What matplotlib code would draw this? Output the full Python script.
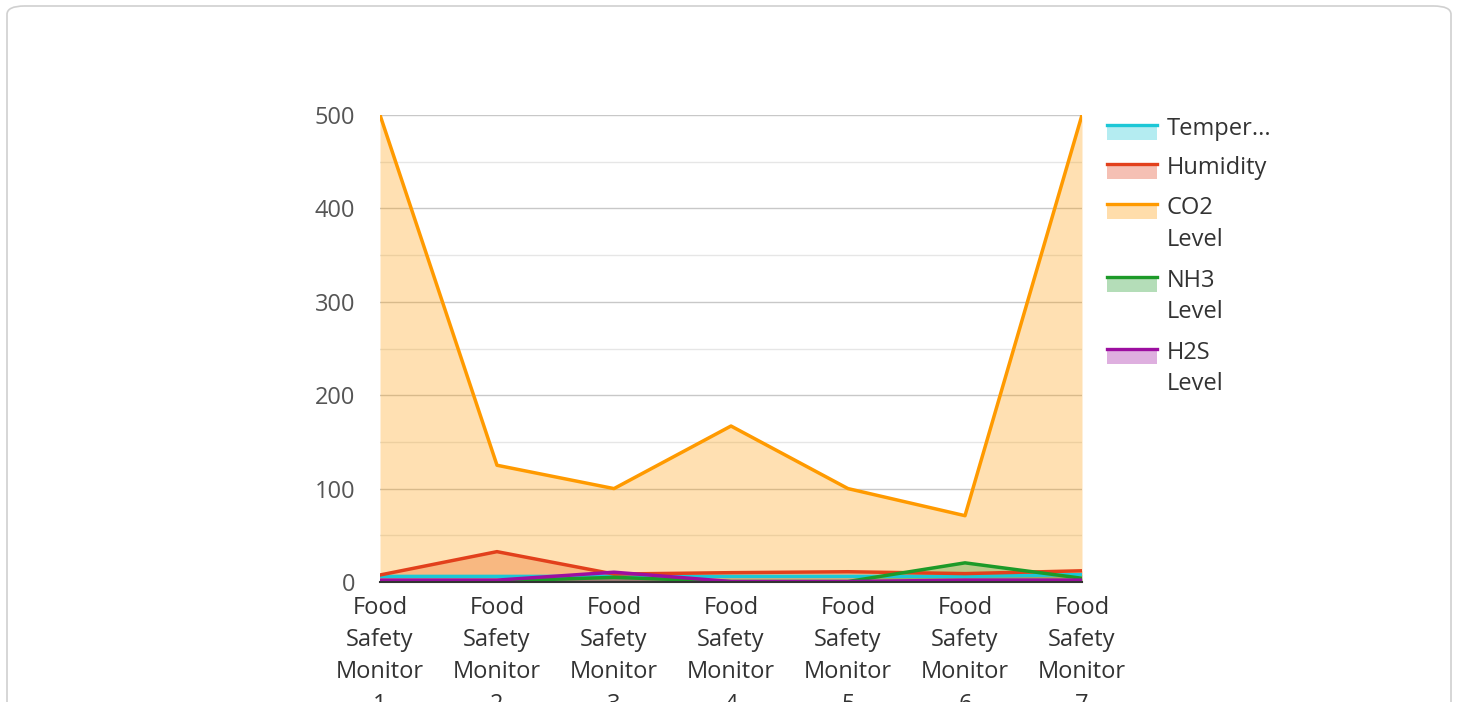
import matplotlib.pyplot as plt
from matplotlib.patches import FancyBboxPatch, Rectangle
from matplotlib.lines import Line2D
from matplotlib.ticker import MultipleLocator

plt.rcParams['font.family'] = ['Open Sans', 'DejaVu Sans']

# data
monitors = ['Food Safety Monitor %d' % i for i in range(1, 8)]
temperature = [6, 6, 6, 6, 6, 6, 8]
humidity = [7.5, 32.5, 8.5, 10, 11, 9, 12]
co2_level = [500, 125, 100, 167, 100, 71, 500]
nh3_level = [0.5, 1, 5, 0.5, 0.5, 20.5, 4]
h2s_level = [2, 2, 10.5, 0.5, 0.5, 2, 2]

series_names = ['Temper...', 'Humidity', 'CO2\nLevel', 'NH3\nLevel', 'H2S\nLevel']
series_values = [temperature, humidity, co2_level, nh3_level, h2s_level]
colors = ['#1cc7d6', '#e2401c', '#ff9a00', '#1c9a28', '#9c0ea0']

W, H = 1458, 702
FS = 17

fig = plt.figure(figsize=(W / 100, H / 100), dpi=100)

# card background
card = FancyBboxPatch((7 / W, -0.05), 1444 / W, 1.05 - 6 / H,
                      boxstyle='round,pad=0,rounding_size=0.012',
                      transform=fig.transFigure, facecolor='white',
                      edgecolor='#d0d0d0', linewidth=1.2, zorder=-10)
fig.patches.append(card)

ax = fig.add_axes([380 / W, 1 - 582 / H, 702 / W, 467 / H])
ax.set_facecolor('none')
ax.set_zorder(2)

x = list(range(len(monitors)))
for i, (vals, col) in enumerate(zip(series_values, colors)):
    ax.fill_between(x, 0, vals, color=col, alpha=0.3, linewidth=0, zorder=2 + i * 0.01)
for i, (vals, col) in enumerate(zip(series_values, colors)):
    ax.plot(x, vals, color=col, linewidth=2.5, zorder=3 + i * 0.01)

ax.set_xlim(0, 6)
ax.set_ylim(0, 500)
ax.yaxis.set_major_locator(MultipleLocator(100))
ax.yaxis.set_minor_locator(MultipleLocator(50))
ax.grid(which='major', axis='y', color='#c8c8c8', linewidth=1, zorder=1)
ax.grid(which='minor', axis='y', color='#e6e6e6', linewidth=1, zorder=1)
ax.grid(axis='x', visible=False)
ax.set_axisbelow(True)
for s in ['top', 'right', 'left']:
    ax.spines[s].set_visible(False)
ax.spines['bottom'].set_color('#333333')
ax.spines['bottom'].set_linewidth(1.5)
ax.spines['bottom'].set_zorder(5)

# wrapped tick labels; the last line runs past the card's bottom as in the original
ax.set_xticks(x)
ax.set_xticklabels([m.replace(' ', '\n') for m in monitors],
                   fontsize=FS, color='#333333', linespacing=1.46,
                   va='top')
ax.tick_params(axis='x', length=0, pad=10)
ax.tick_params(axis='y', which='both', length=0, labelsize=FS,
               labelcolor='#555555', pad=18)

# legend drawn by hand at right of the plot
legend_rows = [[128], [167], [207, 239], [280, 311], [352, 383]]
for name, col, rows in zip(series_names, colors, legend_rows):
    yy = rows[0]
    fig.patches.append(Rectangle((1107 / W, 1 - (yy + 12) / H), 50 / W, 14 / H,
                                 transform=fig.transFigure, facecolor=col,
                                 alpha=0.33, edgecolor='none'))
    fig.lines.append(Line2D([1107 / W, 1157 / W], [1 - (yy - 3) / H] * 2,
                            transform=fig.transFigure, color=col, linewidth=2.4))
    for part, ry in zip(name.split('\n'), rows):
        fig.text(1167 / W, 1 - (ry + 1) / H, part, fontsize=FS, color='#333333',
                 va='center', ha='left')

fig.savefig('out.png', dpi=100)
